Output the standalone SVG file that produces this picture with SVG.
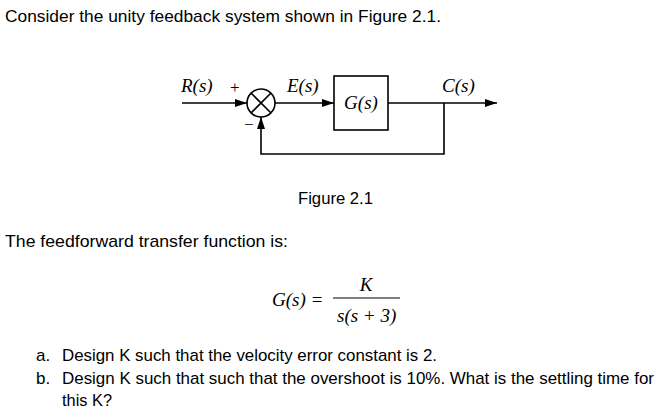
<svg xmlns="http://www.w3.org/2000/svg" width="658" height="412" viewBox="0 0 658 412">
<style>
.t{font-family:"Liberation Sans",Arial,sans-serif;font-size:17px;fill:#000}
.m{font-family:"Liberation Serif","Times New Roman",serif;font-size:19px;font-style:italic;fill:#000}
.l{stroke:#000;stroke-width:1.6;fill:none}
</style>
<defs><marker id="a" markerWidth="12" markerHeight="8" refX="12" refY="4" orient="auto" markerUnits="userSpaceOnUse"><path d="M0,0 L12,4 L0,8 Z" fill="#000"/></marker></defs>
<rect width="658" height="412" fill="#fff"/>
<text class="t" x="5" y="22" textLength="436" lengthAdjust="spacingAndGlyphs">Consider the unity feedback system shown in Figure 2.1.</text>
<g id="sum"><circle cx="261" cy="103" r="14" class="l"/><path class="l" d="M251,93 L271,113 M271,93 L251,113"/>
<text x="230" y="93" style="font-family:'Liberation Serif',serif;font-size:17px">+</text><text x="244" y="130" style="font-family:'Liberation Serif',serif;font-size:17px">−</text></g>
<g id="G"><rect x="334" y="76" width="54" height="54" class="l"/><text class="m" x="361" y="109" text-anchor="middle">G(s)</text></g>
<g id="labels"><text class="m" x="181" y="92">R(s)</text><text class="m" x="287" y="92">E(s)</text><text class="m" x="442" y="92">C(s)</text></g>
<g id="connectors">
<line class="l" x1="182" y1="103" x2="247" y2="103" marker-end="url(#a)"/>
<line class="l" x1="275" y1="103" x2="334" y2="103" marker-end="url(#a)"/>
<line class="l" x1="388" y1="103" x2="497" y2="103" marker-end="url(#a)"/>
<polyline class="l" points="444,103 444,154 261,154 261,117" marker-end="url(#a)"/>
</g>
<text class="t" x="298" y="204" textLength="75" lengthAdjust="spacingAndGlyphs">Figure 2.1</text>
<text class="t" x="5" y="247" textLength="283" lengthAdjust="spacingAndGlyphs">The feedforward transfer function is:</text>
<g id="eq"><text class="m" x="272" y="306">G(s) =</text><text class="m" x="366" y="291" text-anchor="middle">K</text>
<line x1="333" y1="298" x2="400" y2="298" stroke="#000" stroke-width="1.2"/><text class="m" x="337" y="322">s(s + 3)</text></g>
<text class="t" x="36" y="361">a.</text><text class="t" x="62" y="361" textLength="375" lengthAdjust="spacingAndGlyphs">Design K such that the velocity error constant is 2.</text>
<text class="t" x="36" y="384">b.</text><text class="t" x="62" y="384" textLength="592" lengthAdjust="spacingAndGlyphs">Design K such that such that the overshoot is 10%. What is the settling time for</text>
<text class="t" x="62" y="406" textLength="50" lengthAdjust="spacingAndGlyphs">this K?</text>
</svg>
